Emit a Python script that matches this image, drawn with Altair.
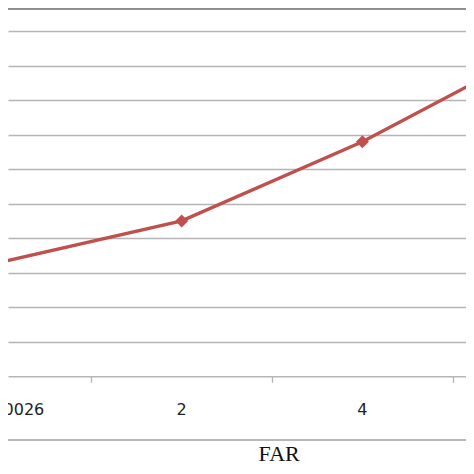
import altair as alt
import pandas as pd

# Category positions (index), category labels and series values
cat_index = [0, 1, 2, 3]
cat_labels = ["0.0000026", "2", "4", "6"]
values = [3.31, 4.50, 6.79, 9.55]

grid_values = [1, 2, 3, 4, 5, 6, 7, 8, 9, 10]
tick_values = [0.5, 1.5, 2.5]

df = pd.DataFrame({"i": cat_index, "label": cat_labels, "v": values})

W, H = 458, 368.3
x_scale = alt.Scale(domain=[0.0387, 2.5733], nice=False, zero=False)
y_scale = alt.Scale(domain=[0, 10.666], nice=False, zero=False)

RED = "#c0504d"
GRID = "#b5b5b5"

base = alt.Chart(df)

line = base.mark_line(color=RED, strokeWidth=3.4, clip=True).encode(
    x=alt.X("i:Q", scale=x_scale,
            axis=alt.Axis(values=tick_values, labels=False, grid=False,
                          ticks=True, tickSize=6, tickColor=GRID, tickWidth=1.3,
                          domain=True, domainColor=GRID, domainWidth=1.5,
                          title="FAR", titleFont="Liberation Serif",
                          titleFontSize=22, titleFontWeight="normal",
                          titleColor="#111111", titleX=270.7, titleY=84.5,
                          titleBaseline="alphabetic", titleAlign="center")),
    y=alt.Y("v:Q", scale=y_scale,
            axis=alt.Axis(values=grid_values, labels=False, ticks=False,
                          domain=False, grid=True, gridColor=GRID,
                          gridWidth=1.3, title=None)),
)

points = base.mark_point(shape="diamond", filled=True, size=170, color=RED,
                         opacity=1, clip=True).encode(
    x=alt.X("i:Q", scale=x_scale),
    y=alt.Y("v:Q", scale=y_scale),
)

# only the categories that fall inside the visible window get a label
labels = base.transform_filter("datum.i <= 2").mark_text(
    font="DejaVu Sans", fontSize=16, color="#222222",
    baseline="alphabetic", align="center").encode(
    x=alt.X("i:Q", scale=x_scale),
    y=alt.value(407),
    text="label:N",
)

top_frame = alt.Chart(df).mark_rule(color="#8c8c8c", strokeWidth=1.6).encode(
    x=alt.value(0), x2=alt.value(W), y=alt.value(0.6)
)
bottom_frame = alt.Chart(df).mark_rule(color="#b8b8b8", strokeWidth=1.5).encode(
    x=alt.value(0), x2=alt.value(W), y=alt.value(432)
)

chart = alt.layer(line, points, labels, top_frame, bottom_frame).properties(
    width=W, height=H,
    padding={"left": 0, "top": 0, "right": 0, "bottom": 89.7},
    autosize=alt.AutoSizeParams(type="none"),
    background="white",
).configure_view(stroke=None)

chart.save("out.html", embed_options={"renderer": "svg", "actions": False})
